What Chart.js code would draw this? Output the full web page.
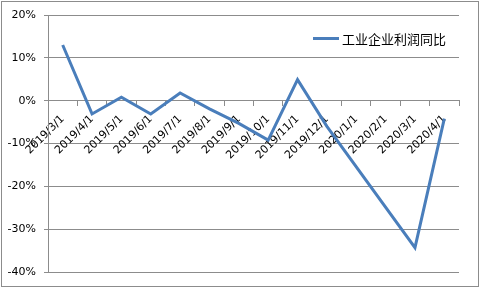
<!DOCTYPE html>
<html>
<head>
<meta charset="utf-8">
<script src="https://cdn.jsdelivr.net/npm/chart.js@4"></script>
<style>
  body { margin: 0; background: #fff; }
  #wrap { position: relative; width: 480px; height: 288px; }
  #frame { position: absolute; left: 1px; top: 1px; width: 476px; height: 284px; border: 1px solid #8c8c8c; pointer-events: none; }
  #legend { position: absolute; left: 313px; top: 29px; height: 18px; display: flex; align-items: center;
            font-family: "Noto Sans CJK SC"; font-size: 13px; color: #000; white-space: nowrap; }
  #legend .swatch { width: 26px; height: 3px; margin-right: 3px; }
</style>
</head>
<body>
<div id="wrap">
  <canvas id="profitChart" width="480" height="288"></canvas>
  <div id="legend"></div>
  <div id="frame"></div>
</div>
<script>
// categories (months)
var months = ['2019/3/1', '2019/4/1', '2019/5/1', '2019/6/1', '2019/7/1', '2019/8/1', '2019/9/1',
              '2019/10/1', '2019/11/1', '2019/12/1', '2020/1/1', '2020/2/1', '2020/3/1', '2020/4/1'];
// 工业企业利润同比 (%), Jan/Feb 2020 have no value
var profitYoY = [13.0, -3.1, 0.8, -3.1, 1.8, -1.9, -5.3, -9.2, 4.9, -6.0, null, null, -34.3, -4.2];
// y axis range
var yTicks = [-40, -30, -20, -10, 0, 10, 20];

var seriesName = '工业企业利润同比';
var lineColor = '#4A7EBB';
var gridColor = '#8c8c8c';

var ctx = document.getElementById('profitChart').getContext('2d');

var chart = new Chart(ctx, {
    type: 'line',
    data: {
        labels: months,
        datasets: [{
            label: seriesName,
            data: profitYoY,
            borderColor: lineColor,
            backgroundColor: lineColor,
            borderWidth: 3,
            pointRadius: 0,
            tension: 0,
            spanGaps: true
        }]
    },
    options: {
        responsive: false,
        animation: false,
        layout: {
            padding: { left: 0, top: 15, right: 21, bottom: 16 }
        },
        plugins: {
            tooltip: { enabled: false },
            legend: { display: false }
        },
        scales: {
            x: {
                position: { y: 0 },
                offset: true,
                grid: {
                    offset: true,
                    drawOnChartArea: false,
                    drawTicks: true,
                    tickLength: 5,
                    color: gridColor
                },
                border: { color: gridColor },
                ticks: {
                    minRotation: 45,
                    maxRotation: 45,
                    padding: 7,
                    autoSkip: false,
                    color: '#000',
                    font: { family: 'DejaVu Sans', size: 11 }
                }
            },
            y: {
                min: yTicks[0],
                max: yTicks[yTicks.length - 1],
                afterFit: function (scale) { scale.width = 48; },
                afterBuildTicks: function (scale) {
                    scale.ticks = yTicks.map(function (v) { return { value: v }; });
                },
                grid: {
                    color: gridColor,
                    tickLength: 4
                },
                border: { color: gridColor },
                ticks: {
                    padding: 8,
                    color: '#000',
                    font: { family: 'DejaVu Sans', size: 11 },
                    callback: function (value) { return value + '%'; }
                }
            }
        }
    }
});

// legend as page text, built from the dataset
var legendBox = document.getElementById('legend');
chart.data.datasets.forEach(function (ds) {
    var swatch = document.createElement('span');
    swatch.className = 'swatch';
    swatch.style.background = ds.borderColor;
    var label = document.createElement('span');
    label.textContent = ds.label;
    legendBox.appendChild(swatch);
    legendBox.appendChild(label);
});
</script>
</body>
</html>
